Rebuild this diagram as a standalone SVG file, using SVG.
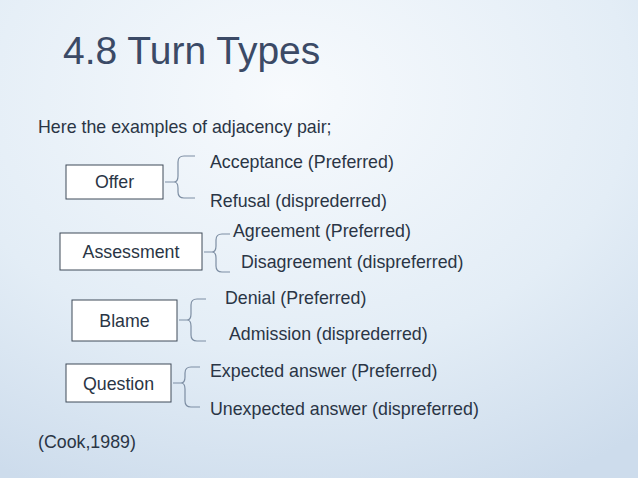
<svg xmlns="http://www.w3.org/2000/svg" width="638" height="478" viewBox="0 0 638 478">
<defs>
<radialGradient id="bg" cx="0.45" cy="0.2" r="0.9">
<stop offset="0" stop-color="#f7fafd"/><stop offset="0.6" stop-color="#e3edf6"/><stop offset="1" stop-color="#cddcec"/>
</radialGradient>
<style>
.t{font-family:"Liberation Sans",Arial,sans-serif;font-size:17.8px;fill:#2a3545}
.box{fill:#fff;stroke:#3e4a58;stroke-width:1}
.br{fill:none;stroke:#7d8ea3;stroke-width:1.2}
</style>
</defs>
<rect width="638" height="478" fill="url(#bg)"/>
<text x="63" y="64" style="font-family:'Liberation Sans',Arial,sans-serif;font-size:39px;fill:#3b4a66">4.8 Turn Types</text>
<text class="t" x="38" y="133">Here the examples of adjacency pair;</text>
<g id="offer"><rect class="box" x="66" y="165" width="97" height="34"/><text class="t" x="114.5" y="188" text-anchor="middle">Offer</text></g>
<g id="assessment"><rect class="box" x="60" y="233" width="142" height="37"/><text class="t" x="131" y="258" text-anchor="middle">Assessment</text></g>
<g id="blame"><rect class="box" x="72" y="300" width="105" height="41"/><text class="t" x="124.5" y="327" text-anchor="middle">Blame</text></g>
<g id="question"><rect class="box" x="66" y="364" width="105" height="38"/><text class="t" x="118.5" y="390" text-anchor="middle">Question</text></g>
<g id="labels">
<text class="t" x="210" y="168">Acceptance (Preferred)</text>
<text class="t" x="210" y="207">Refusal (disprederred)</text>
<text class="t" x="233" y="237">Agreement (Preferred)</text>
<text class="t" x="241" y="268">Disagreement (dispreferred)</text>
<text class="t" x="225" y="304">Denial  (Preferred)</text>
<text class="t" x="229" y="340">Admission (disprederred)</text>
<text class="t" x="210" y="377">Expected answer (Preferred)</text>
<text class="t" x="210" y="415">Unexpected answer (dispreferred)</text>
<text class="t" x="38" y="448">(Cook,1989)</text>
</g>
<g id="connectors">
<path class="br" d="M165 182 H174 Q178 182 178 176 V162 Q178 156 184 156 H195 M178 188 V192 Q178 198 184 198 H195 M174 182 Q178 182 178 188"/>
<path class="br" d="M204 252 H212 Q216 252 216 246 V240 Q216 234 222 234 H230 M212 252 Q216 252 216 258 V266 Q216 272 222 272 H230"/>
<path class="br" d="M179 320 H187 Q191 320 191 314 V305 Q191 299 197 299 H206 M187 320 Q191 320 191 326 V335 Q191 341 197 341 H206"/>
<path class="br" d="M173 383 H181 Q185 383 185 377 V373 Q185 367 191 367 H200 M181 383 Q185 383 185 389 V401 Q185 407 191 407 H200"/>
</g>
</svg>
